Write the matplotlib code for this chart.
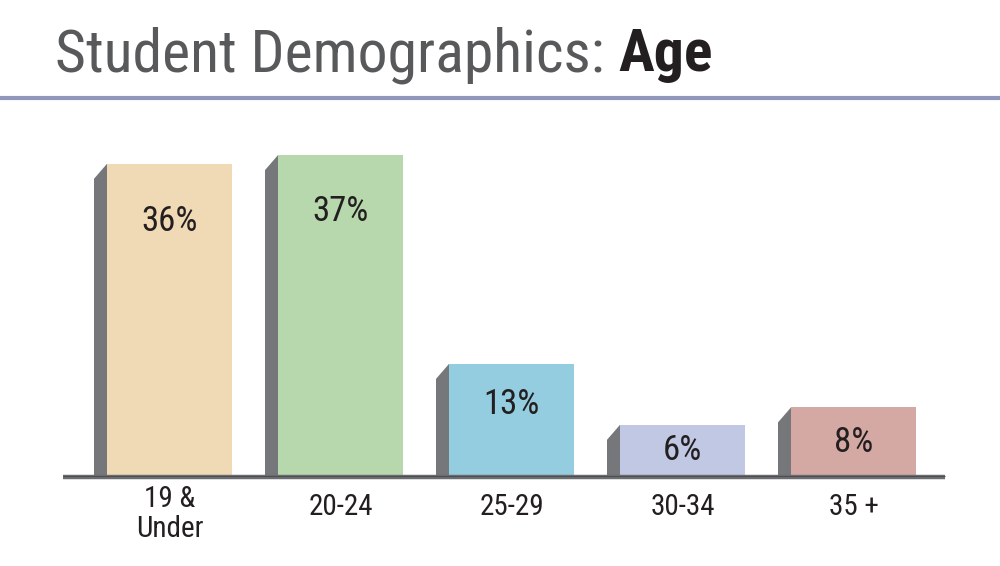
import matplotlib
matplotlib.use("Agg")
import matplotlib.pyplot as plt
from matplotlib.patches import Polygon
from matplotlib.transforms import offset_copy
import numpy as np

categories = ["19 &\nUnder", "20-24", "25-29", "30-34", "35 +"]
values = [36, 37, 13, 6, 8]
value_labels = ["36%", "37%", "13%", "6%", "8%"]
title_main = "Student Demographics: "
title_bold = "Age"

bar_colors = ["#F0D9B5", "#B7D8AD", "#94CCE0", "#C0C8E4", "#D4A9A4"]
side_color = "#76777B"
label_drop_px = [58, 56, 41, 26, 35]

FONT = ["Liberation Sans Narrow", "Roboto Condensed", "Liberation Sans", "DejaVu Sans"]
plt.rcParams["font.family"] = FONT

W, H = 1000, 566
fig = plt.figure(figsize=(W / 100, H / 100), dpi=100)

# axes placement in pixels
ax_left, ax_right = 63, 945
base_y = 477
px_per_pct = 8.7
ymax = 40
ax_h = ymax * px_per_pct
ax = fig.add_axes([ax_left / W, (H - base_y) / H, (ax_right - ax_left) / W, ax_h / H])

step_px = 171.0
first_center = 169.5
x0 = -(first_center - ax_left) / step_px
x1 = (ax_right - first_center) / step_px
ax.set_xlim(x0, x1)
ax.set_ylim(0, ymax)
ax.axis("off")

bw = 125 / step_px
xs = np.arange(len(categories))
ax.bar(xs, values, width=bw, color=bar_colors, zorder=3, linewidth=0)

# 3D side faces
dx = 13 / step_px
dy = 15 / px_per_pct
for x, v in zip(xs, values):
    xl = x - bw / 2
    poly = Polygon([(xl, v), (xl - dx, v - dy), (xl - dx, 0), (xl, 0)],
                   closed=True, facecolor=side_color, edgecolor="none", zorder=2)
    ax.add_patch(poly)

# baseline
ax.plot([x0, x1], [0, 0], color="#6D6E71", lw=3.2, solid_capstyle="butt",
        zorder=4, clip_on=False)
ax.plot([x0, x1], [0.12, 0.12], color="#4D4E51", lw=0.8, solid_capstyle="butt",
        zorder=5, clip_on=False)

# value labels
for x, v, lab, d in zip(xs, values, value_labels, label_drop_px):
    tr = offset_copy(ax.transData, fig=fig, x=0, y=-d * 0.72, units="points")
    ax.text(x, v, lab, transform=tr, ha="center", va="center",
            fontsize=25, color="#231F20", zorder=6)

# category labels
for x, lab in zip(xs, categories):
    nlines = lab.count("\n") + 1
    drop = 30 + 7 * (nlines - 1)
    tr = offset_copy(ax.transData, fig=fig, x=0, y=-drop * 0.72, units="points")
    ax.text(x, 0, lab, transform=tr, ha="center", va="center",
            fontsize=21, color="#231F20", linespacing=1.12)

# title
t1 = fig.text(55 / W, 1 - 71 / H, title_main, fontsize=43, color="#58595B",
              ha="left", va="baseline")
fig.canvas.draw()
bb = t1.get_window_extent()
fig.text(bb.x1 / W, 1 - 71 / H, title_bold, fontsize=43, color="#231F20",
         fontweight="bold", ha="left", va="baseline")

# rule line under title
fig.add_artist(plt.Line2D([0, 1], [1 - 98 / H, 1 - 98 / H], color="#9097BA",
                          lw=3.0, transform=fig.transFigure))

fig.savefig("out.png", dpi=100, facecolor="white")
